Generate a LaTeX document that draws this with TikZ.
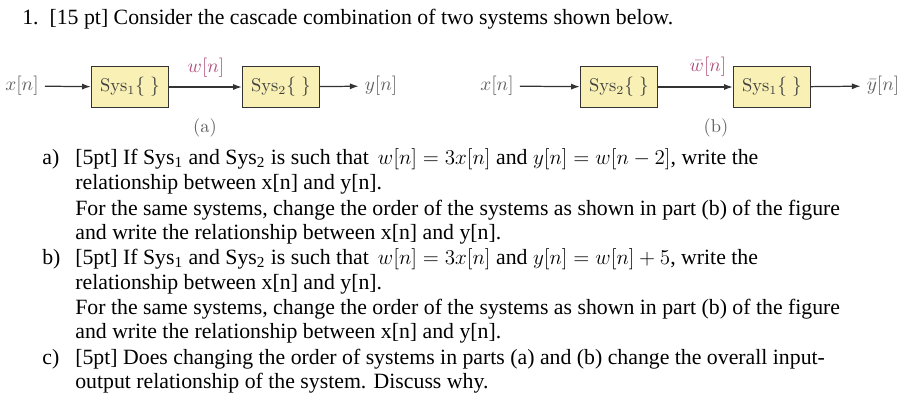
\documentclass[tikz,border=0pt]{standalone}
\usepackage{fontspec}
\newfontfamily\tnr{Liberation Serif}
\usetikzlibrary{arrows.meta}
\definecolor{boxfill}{HTML}{F8F0B4}
\definecolor{lbl}{HTML}{606060}
\definecolor{wcol}{HTML}{B0507A}
\begin{document}
\begin{tikzpicture}[x=0.02cm,y=-0.02cm,
  sysbox/.style={draw=black!80,line width=0.8pt,fill=boxfill,minimum width=1.54cm,minimum height=0.82cm,font=\fontsize{10.5}{12}\selectfont,text=black!75},
  sig/.style={text=lbl,font=\fontsize{10.5}{12}\selectfont},
  wl/.style={text=wcol,font=\fontsize{10.5}{12}\selectfont,inner sep=1pt},
  conn/.style={draw=black!80,line width=0.7pt,-{Latex[length=5pt,width=3.5pt]}},
  txt/.style={anchor=base west,inner sep=0pt,font=\tnr\fontsize{12.4}{14}\selectfont}]
\useasboundingbox (0,0) rectangle (921,406);
% (a)
\node[sig] (xa) at (22,86) {$x[n]$};
\node[sysbox] (a1) at (130,87) {Sys$_1\{\;\}$};
\node[sysbox] (a2) at (281,87) {Sys$_2\{\;\}$};
\node[sig] (ya) at (381,86) {$y[n]$};
\node[wl] (wa) at (206,68) {$w[n]$};
\node[sig] (la) at (205,128) {(a)};
\draw[conn] (xa) -- (a1);
\draw[conn] (a1) -- (a2);
\draw[conn] (a2) -- (ya);
% (b)
\node[sig] (xb) at (497,86) {$x[n]$};
\node[sysbox] (b1) at (619,87) {Sys$_2\{\;\}$};
\node[sysbox] (b2) at (772,87) {Sys$_1\{\;\}$};
\node[sig] (yb) at (883,86) {$\bar y[n]$};
\node[wl] (wb) at (708,67) {$\bar w[n]$};
\node[sig] (lb) at (716,128) {(b)};
\draw[conn] (xb) -- (b1);
\draw[conn] (b1) -- (b2);
\draw[conn] (b2) -- (yb);
% text
\node[txt] (t0) at (22,24) {1.\ \ [15 pt] Consider the cascade combination of two systems shown below.};
\node[txt] (ia) at (42,164) {a)};
\node[txt] (a1t) at (75,164) {[5pt] If Sys\textsubscript{1} and Sys\textsubscript{2} is such that \,$w[n]=3x[n]$ and $y[n]=w[n-2]$, write the};
\node[txt] (a2t) at (75,189) {relationship between x[n] and y[n].};
\node[txt] (a3t) at (75,215) {For the same systems, change the order of the systems as shown in part (b) of the figure};
\node[txt] (a4t) at (75,239) {and write the relationship between x[n] and y[n].};
\node[txt] (ib) at (42,264) {b)};
\node[txt] (b1t) at (75,264) {[5pt] If Sys\textsubscript{1} and Sys\textsubscript{2} is such that \,$w[n]=3x[n]$ and $y[n]=w[n]+5$, write the};
\node[txt] (b2t) at (75,289) {relationship between x[n] and y[n].};
\node[txt] (b3t) at (75,314) {For the same systems, change the order of the systems as shown in part (b) of the figure};
\node[txt] (b4t) at (75,338) {and write the relationship between x[n] and y[n].};
\node[txt] (ic) at (42,364) {c)};
\node[txt] (c1t) at (75,364) {[5pt] Does changing the order of systems in parts (a) and (b) change the overall input-};
\node[txt] (c2t) at (75,388) {output relationship of the system. Discuss why.};
\end{tikzpicture}
\end{document}
